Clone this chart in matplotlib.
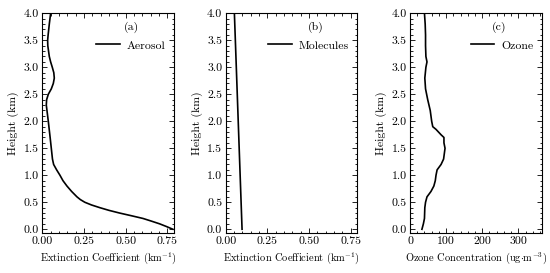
import matplotlib
matplotlib.use("Agg")
import matplotlib.pyplot as plt
from matplotlib.ticker import MultipleLocator, AutoMinorLocator

plt.rcParams["font.family"] = ["cmr10", "DejaVu Serif"]
plt.rcParams["mathtext.fontset"] = "cm"
plt.rcParams["axes.formatter.use_mathtext"] = True

# Perfiles
altura_aer = [0.0, 0.05, 0.1, 0.15, 0.2, 0.25, 0.3, 0.35, 0.4, 0.45, 0.5, 0.55,
              0.6, 0.7, 0.8, 0.9, 1.0, 1.1, 1.15, 1.2, 1.3, 1.5, 1.7, 2.0, 2.2,
              2.3, 2.4, 2.5, 2.6, 2.7, 2.8, 2.9, 3.0, 3.1, 3.2, 3.4, 3.5, 3.6,
              3.8, 4.0]
aerosol = [0.783, 0.745, 0.704, 0.655, 0.604, 0.535, 0.464, 0.400, 0.345, 0.295,
           0.255, 0.228, 0.208, 0.176, 0.148, 0.124, 0.106, 0.086, 0.077, 0.068,
           0.061, 0.054, 0.047, 0.036, 0.028, 0.024, 0.026, 0.036, 0.054, 0.066,
           0.072, 0.069, 0.060, 0.050, 0.042, 0.033, 0.032, 0.035, 0.042, 0.050]

altura_mol = [0.0, 4.0]
moleculas = [0.098, 0.052]

altura_oz = [0.0, 0.1, 0.2, 0.4, 0.5, 0.6, 0.7, 0.8, 0.9, 1.0, 1.1, 1.2, 1.3,
             1.4, 1.5, 1.6, 1.7, 1.75, 1.85, 1.9, 2.0, 2.2, 2.4, 2.6, 2.8, 3.0,
             3.1, 3.2, 3.4, 3.6, 3.8, 4.0]
ozono = [33, 37, 40, 41, 43, 47, 58, 66, 70, 72, 75, 86, 93, 95, 97, 94, 94, 86,
         72, 63, 60, 56, 49, 43, 41, 44, 47, 44, 43, 43, 42, 40]

paneles = [
    (altura_aer, aerosol, "Aerosol", "(a)", r"Extinction Coefficient (km$^{-1}$)", (0, 0.79), 0.25),
    (altura_mol, moleculas, "Molecules", "(b)", r"Extinction Coefficient (km$^{-1}$)", (0, 0.79), 0.25),
    (altura_oz, ozono, "Ozone", "(c)", r"Ozone Concentration (ug$\cdot$m$^{-3}$)", (0, 365), 100),
]

fig = plt.figure(figsize=(5.5, 2.73), dpi=100)
lefts = [0.0769, 0.4104, 0.7455]

for left, (h, x, nombre, letra, xlabel, xlim, paso) in zip(lefts, paneles):
    ax = fig.add_axes([left, 0.1454, 0.2395, 0.8059])
    ax.plot(x, h, color="black", lw=1.2, label=nombre)
    ax.set_xlim(*xlim)
    ax.set_ylim(-0.075, 4.0)
    ax.xaxis.set_major_locator(MultipleLocator(paso))
    ax.yaxis.set_major_locator(MultipleLocator(0.5))
    ax.xaxis.set_minor_locator(AutoMinorLocator(5))
    ax.yaxis.set_minor_locator(AutoMinorLocator(5))
    if paso == 100:
        ax.xaxis.set_major_formatter(plt.FormatStrFormatter("%d"))
    else:
        ax.xaxis.set_major_formatter(plt.FormatStrFormatter("%.2f"))
    ax.yaxis.set_major_formatter(plt.FormatStrFormatter("%.1f"))
    ax.tick_params(which="both", direction="in", top=True, right=True, labelsize=8.5, width=0.6)
    ax.tick_params(which="major", length=3.5, pad=2.5)
    ax.tick_params(which="minor", length=1.8)
    for s in ax.spines.values():
        s.set_linewidth(0.8)
    ax.set_xlabel(xlabel, fontsize=7.5, labelpad=2.5)
    ax.set_ylabel("Height (km)", fontsize=8.5, labelpad=3)
    ax.text(0.62, 0.935, letra, transform=ax.transAxes, fontsize=8.5, va="center")
    ax.legend(loc="upper right", bbox_to_anchor=(1.0, 0.915), frameon=False,
              fontsize=8.5, handlelength=2.0, handletextpad=0.6, borderpad=0.2)

plt.savefig("out.png", dpi=100)
